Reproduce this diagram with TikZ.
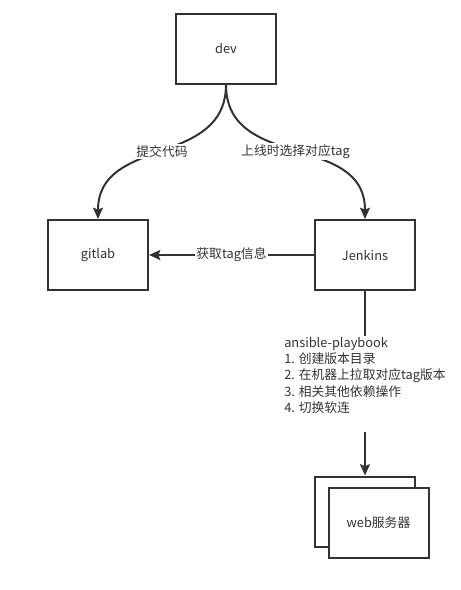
\documentclass[tikz,border=0pt]{standalone}
\usepackage{fontspec}
\setmainfont{Noto Sans CJK SC}
\usetikzlibrary{arrows.meta,positioning}
\definecolor{ink}{HTML}{333333}

\begin{document}
\begin{tikzpicture}[
  x=0.75pt, y=-0.75pt,
  every node/.style={font=\fontsize{9.6}{12.2}\selectfont, text=ink},
  box/.style={draw=ink, line width=1.5pt, minimum width=75pt, minimum height=52.5pt,
              inner sep=0pt, fill=white},
  lbl/.style={fill=white, inner sep=1pt},
  arrow/.style={-{Stealth[length=8.5pt, width=7.5pt, inset=1.5pt]}, draw=ink, line width=1.5pt}
]
\useasboundingbox (0,0) rectangle (461,590);

\node[box] (dev) at (226,48.5) {dev};
\node[box] (gitlab) at (98,255) {gitlab};
\node[box] (jenkins) at (365,255) {Jenkins};
\node[align=left, anchor=north, inner sep=1pt] (playbook) at (365,335.5)
  {ansible-playbook\\1. 创建版本目录\\2. 在机器上拉取对应tag版本\\3. 相关其他依赖操作\\4. 切换软连};
\coordinate (gap) at (365,432);
\node[box] (webback) at (365,511.5) {};
\node[box] (web) at (378.5,523) {web服务器};

\draw[arrow] (dev.south) to[out=-90, in=90, looseness=1.15]
  node[lbl] {提交代码} (gitlab.north);
\draw[arrow] (dev.south) to[out=-90, in=90, looseness=1.15]
  node[lbl] {上线时选择对应tag} (jenkins.north);
\draw[arrow] (jenkins.west) -- node[lbl] {获取tag信息} (gitlab.east);
\draw[draw=ink, line width=1.5pt] (jenkins.south) -- (playbook.north);
\draw[arrow] (gap) -- (webback.north);
\end{tikzpicture}
\end{document}
